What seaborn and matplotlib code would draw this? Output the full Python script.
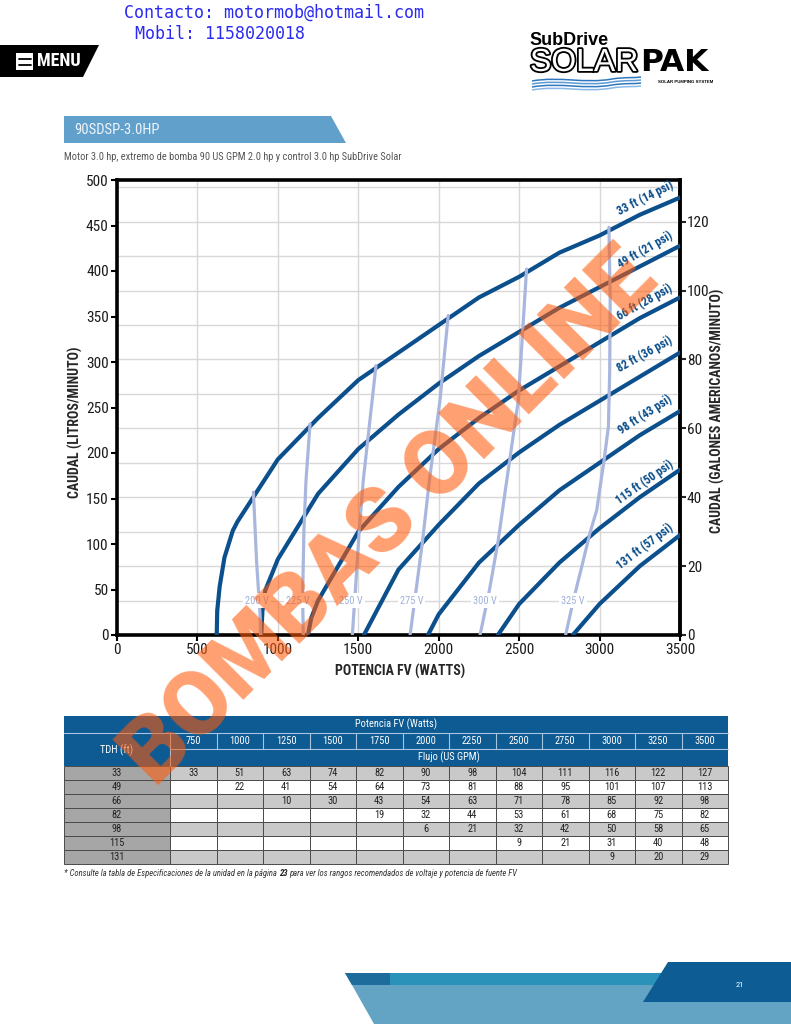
import numpy as np
import pandas as pd
import matplotlib
matplotlib.use("Agg")
import matplotlib.pyplot as plt
import matplotlib.patheffects as pe
from matplotlib.patches import Polygon, Rectangle, PathPatch
from matplotlib.path import Path
import seaborn as sns

# ---- data read from the page ----
LPM_PER_GPM = 3.785

watts_cols = [750, 1000, 1250, 1500, 1750, 2000, 2250, 2500, 2750, 3000, 3250, 3500]
tdh_ft = [33, 49, 66, 82, 98, 115, 131]
tdh_psi = [14, 21, 28, 36, 43, 50, 57]

# flujo (US GPM) table, None = empty cell
flow_33 = [33, 51, 63, 74, 82, 90, 98, 104, 111, 116, 122, 127]
flow_49 = [None, 22, 41, 54, 64, 73, 81, 88, 95, 101, 107, 113]
flow_66 = [None, None, 10, 30, 43, 54, 63, 71, 78, 85, 92, 98]
flow_82 = [None, None, None, None, 19, 32, 44, 53, 61, 68, 75, 82]
flow_98 = [None, None, None, None, None, 6, 21, 32, 42, 50, 58, 65]
flow_115 = [None, None, None, None, None, None, None, 9, 21, 31, 40, 48]
flow_131 = [None, None, None, None, None, None, None, None, None, 9, 20, 29]
flows = [flow_33, flow_49, flow_66, flow_82, flow_98, flow_115, flow_131]

# low-flow start of each curve (watts, gpm)
start_33 = [(620, 0), (623, 7), (638, 14), (668, 22.5), (720, 30.3)]
start_49 = [(897, 0), (904, 7), (922, 13)]
start_66 = [(1187, 0), (1208, 5)]
start_82 = [(1535, 0)]
start_98 = [(1933, 0)]
start_115 = [(2368, 0)]
start_131 = [(2834, 0)]
starts = [start_33, start_49, start_66, start_82, start_98, start_115, start_131]

# voltage lines (watts, litros/minuto)
volts = ["200 V", "225 V", "250 V", "275 V", "300 V", "325 V"]
v200_w, v200_lpm = [848, 868, 889, 893], [157, 80, 24, 0]
v225_w, v225_lpm = [1200, 1175, 1162, 1154, 1158], [232, 170, 115, 42, 0]
v250_w, v250_lpm = [1610, 1531, 1506, 1486, 1463], [296, 170, 115, 60, 0]
v275_w, v275_lpm = [2059, 2008, 1942, 1900, 1859, 1822], [351, 258, 170, 104, 49, 0]
v300_w, v300_lpm = [2546, 2495, 2423, 2370, 2315, 2257], [402, 258, 170, 104, 49, 0]
v325_w = [3058, 3066, 3063, 3055, 3028, 2982, 2940, 2889, 2837, 2789]
v325_lpm = [448, 370, 290, 229, 192, 137, 112, 75, 38, 0]
volt_w = [v200_w, v225_w, v250_w, v275_w, v300_w, v325_w]
volt_lpm = [v200_lpm, v225_lpm, v250_lpm, v275_lpm, v300_lpm, v325_lpm]
volt_label_w = [868, 1125, 1455, 1831, 2287, 2836]
volt_label_gpm = 10

# ---- build long tables ----
rows = []
for ft, st, fl in zip(tdh_ft, starts, flows):
    for w, g in st:
        rows.append((f"{ft} ft", w, g))
    for w, g in zip(watts_cols, fl):
        if g is not None:
            rows.append((f"{ft} ft", w, g))
curves = pd.DataFrame(rows, columns=["tdh", "watts", "gpm"])
curves["lpm"] = curves["gpm"] * LPM_PER_GPM

vrows = []
for v, ws, ls in zip(volts, volt_w, volt_lpm):
    for w, l in zip(ws, ls):
        vrows.append((v, w, l))
vlines = pd.DataFrame(vrows, columns=["volt", "watts", "lpm"])

# ---- style ----
sns.set_style("white")
plt.rcParams["font.family"] = ["Roboto Condensed", "Roboto"]
plt.rcParams["font.stretch"] = "condensed"

navy = "#0b4f8c"
lav = "#a9b7de"
W, H = 791, 1024

fig = plt.figure(figsize=(W / 100, H / 100), dpi=100)
ax = fig.add_axes([117 / W, 1 - 635 / H, 563 / W, 455 / H])

sns.lineplot(data=curves, x="watts", y="lpm", hue="tdh", palette=[navy] * len(tdh_ft),
             estimator=None, sort=False, lw=3.0, legend=False, ax=ax, zorder=3,
             solid_joinstyle="round")
sns.lineplot(data=vlines, x="watts", y="lpm", hue="volt", palette=[lav] * len(volts),
             estimator=None, sort=False, lw=2.3, legend=False, ax=ax, zorder=4,
             solid_joinstyle="round")

ax.set_xlim(0, 3500)
ax.set_ylim(0, 500)
ax.set_xticks(range(0, 3501, 500))
ax.set_yticks(range(0, 501, 50))
ax.set_yticks([g * LPM_PER_GPM for g in range(10, 131, 10)], minor=True)
ax.grid(False)
ax.xaxis.grid(True, which="major", color="#d8d8d8", lw=1)
ax.yaxis.grid(True, which="minor", color="#d8d8d8", lw=1)
ax.set_axisbelow(True)
ax.tick_params(which="major", direction="out", length=4, width=1.5, labelsize=11, pad=2,
               left=True, bottom=True, colors="black", labelcolor="#1a1a1a")
ax.tick_params(which="minor", length=0)
for s in ax.spines.values():
    s.set_linewidth(2.6)
    s.set_color("black")
ax.set_xlabel("")
ax.set_ylabel("")

sec = ax.secondary_yaxis("right", functions=(lambda l: l / LPM_PER_GPM, lambda g: g * LPM_PER_GPM))
sec.set_yticks(range(0, 121, 20))
sec.tick_params(direction="out", length=4, width=1.5, labelsize=11, pad=1, labelcolor="#1a1a1a")
sec.spines["right"].set_linewidth(2.6)

ax.text(-0.073, 0.468, "CAUDAL (LITROS/MINUTO)", transform=ax.transAxes, rotation=90,
        ha="center", va="center", fontsize=10, fontweight="bold")
ax.text(1.066, 0.493, "CAUDAL (GALONES AMERICANOS/MINUTO)", transform=ax.transAxes, rotation=90,
        ha="center", va="center", fontsize=10, fontweight="bold")
ax.text(0.503, -0.081, "POTENCIA FV (WATTS)", transform=ax.transAxes,
        ha="center", va="center", fontsize=10, fontweight="bold")

# curve labels
label_y = [480, 423, 366, 308, 242, 168, 97]
label_rot = [27, 30, 29, 29, 33, 35, 37]
for ft, psi, ly, r in zip(tdh_ft, tdh_psi, label_y, label_rot):
    ax.text(3282, ly, f"{ft} ft ({psi} psi)", rotation=r, rotation_mode="anchor",
            ha="center", va="center", color=navy, fontsize=8.5, fontweight="bold", zorder=6)

for v, lw_ in zip(volts, volt_label_w):
    ax.text(lw_, volt_label_gpm * LPM_PER_GPM, v, ha="center", va="center", fontsize=7.5,
            color="#9fb0da", zorder=6,
            bbox=dict(fc="white", ec="none", pad=1.5))

# ---- page overlay ----
ov = fig.add_axes([0, 0, 1, 1])
ov.set_xlim(0, W)
ov.set_ylim(H, 0)
ov.axis("off")
ov.patch.set_visible(False)
ov.set_zorder(10)

ov.text(124, 13, "Contacto: motormob@hotmail.com", family="DejaVu Sans Mono", fontsize=12,
        color="#2a2af2", va="center", stretch="normal")
ov.text(135, 34, "Mobil: 1158020018", family="DejaVu Sans Mono", fontsize=12,
        color="#2a2af2", va="center", stretch="normal")

# menu badge
ov.add_patch(Polygon([(0, 45), (99, 45), (83, 77), (0, 77)], closed=True, fc="black", ec="none"))
ov.add_patch(Rectangle((16, 53), 17, 17, fc="white", ec="none"))
for yy in (58.5, 64.5):
    ov.plot([18.5, 30.5], [yy, yy], color="black", lw=1.3)
ov.text(37, 61.5, "MENU", color="white", fontsize=13, fontweight="bold", va="center", ha="left")

# logo
ov.text(529, 45, "SubDrive", family="Liberation Sans", fontsize=13, fontweight="bold",
        va="baseline", color="black", stretch="normal")
ov.text(530, 71, "SOLAR", family="Liberation Sans", fontsize=23, va="baseline", color="white",
        stretch="normal", path_effects=[pe.withStroke(linewidth=2.6, foreground="black")])
ov.text(640, 71, "PAK", family="DejaVu Sans", fontsize=22.5, fontweight="bold", va="baseline",
        color="black", stretch="normal")
ov.text(686, 82, "SOLAR PUMPING SYSTEM", family="Liberation Sans", fontsize=3.2,
        fontweight="bold", ha="center", va="center", color="black", stretch="normal")
for dy, c in [(0, "#2f78c0"), (3.0, "#5b9ad6"), (6.0, "#2f78c0"), (9.0, "#8ab8e6")]:
    y0 = 79 + dy
    verts = [(532, y0 + 2), (560, y0 - 3), (585, y0 + 5), (612, y0), (625, y0 - 2), (635, y0 - 1), (641, y0 - 2)]
    codes = [Path.MOVETO, Path.CURVE4, Path.CURVE4, Path.CURVE4, Path.CURVE4, Path.CURVE4, Path.CURVE4]
    ov.add_patch(PathPatch(Path(verts, codes), fc="none", ec=c, lw=1.1))

# title banner
ov.add_patch(Polygon([(64, 116), (331, 116), (346, 143), (64, 143)], closed=True,
                     fc="#62a0cc", ec="none"))
ov.text(74, 130, "90SDSP-3.0HP", color="#eef4fa", fontsize=10.5, va="center")
ov.text(64, 157, "Motor 3.0 hp, extremo de bomba 90 US GPM 2.0 hp y control 3.0 hp SubDrive Solar",
        color="#555555", fontsize=7.5, va="center")

# table
hdr = "#0e5a92"
x0, x1, c0 = 64, 728, 170
cw = (x1 - c0) / len(watts_cols)
ov.add_patch(Rectangle((x0, 716), x1 - x0, 50, fc=hdr, ec="none"))
lc = "#a7c6e0"
ov.plot([x0, x1], [733, 733], color=lc, lw=0.8)
ov.plot([c0, x1], [749, 749], color=lc, lw=0.8)
ov.plot([c0, c0], [733, 766], color=lc, lw=0.8)
for i in range(1, len(watts_cols)):
    ov.plot([c0 + i * cw] * 2, [733, 749], color=lc, lw=0.8)
ov.text((x0 + x1) / 2, 724.5, "Potencia FV (Watts)", color="white", fontsize=7.5, ha="center", va="center")
ov.text((c0 + x1) / 2, 757.5, "Flujo (US GPM)", color="white", fontsize=7.5, ha="center", va="center")
ov.text((x0 + c0) / 2, 750, "TDH (ft)", color="white", fontsize=7.5, ha="center", va="center")
for i, w in enumerate(watts_cols):
    ov.text(c0 + (i + 0.5) * cw, 741, str(w), color="white", fontsize=7.5, ha="center", va="center")

rh = 14
ytop = 766
for r, (ft, fl) in enumerate(zip(tdh_ft, flows)):
    yy = ytop + r * rh
    ov.add_patch(Rectangle((x0, yy), c0 - x0, rh, fc="#a6a6a6", ec="#4a4a4a", lw=0.7))
    ov.text((x0 + c0) / 2, yy + rh / 2, str(ft), fontsize=7.5, ha="center", va="center", color="#222222")
    fc = "#c9c9c9" if r % 2 == 0 else "white"
    for i, g in enumerate(fl):
        ov.add_patch(Rectangle((c0 + i * cw, yy), cw, rh, fc=fc, ec="#4a4a4a", lw=0.7))
        if g is not None:
            ov.text(c0 + (i + 0.5) * cw, yy + rh / 2, str(g), fontsize=7.5, ha="center",
                    va="center", color="#222222")

t1 = ov.text(64, 874, "* Consulte la tabla de Especificaciones de la unidad en la página ",
             fontsize=6.2, style="italic", color="#333333", va="center")
t2 = ov.annotate("23 ", xy=(1, 0.5), xycoords=t1, fontsize=6.2, style="italic",
                 fontweight="bold", color="#222222", va="center", ha="left")
ov.annotate("para ver los rangos recomendados de voltaje y potencia de fuente FV", xy=(1, 0.5),
            xycoords=t2, fontsize=6.2, style="italic", color="#333333", va="center", ha="left")

# footer
ov.add_patch(Polygon([(352, 985), (791, 985), (791, 1024), (374, 1024)], closed=True, fc="#63a3c3", ec="none"))
ov.add_patch(Polygon([(345, 973), (791, 973), (791, 985), (352, 985)], closed=True, fc="#2a92b8", ec="none"))
ov.add_patch(Polygon([(345, 973), (390, 973), (390, 985), (352, 985)], closed=True, fc="#1d6c9c", ec="none"))
ov.add_patch(Polygon([(668, 962), (791, 962), (791, 1002), (643, 1002)], closed=True, fc="#0e5c94", ec="none"))
ov.text(740, 985, "21", color="white", fontsize=6, ha="center", va="center")

# watermark
ov.text(390, 518, "BOMBAS ONLINE", family="Roboto", fontsize=65, fontweight="black",
        color="#ff5b0a", alpha=0.58, rotation=45, ha="center", va="center", zorder=50,
        stretch="normal")

fig.savefig("out.png", dpi=100)
